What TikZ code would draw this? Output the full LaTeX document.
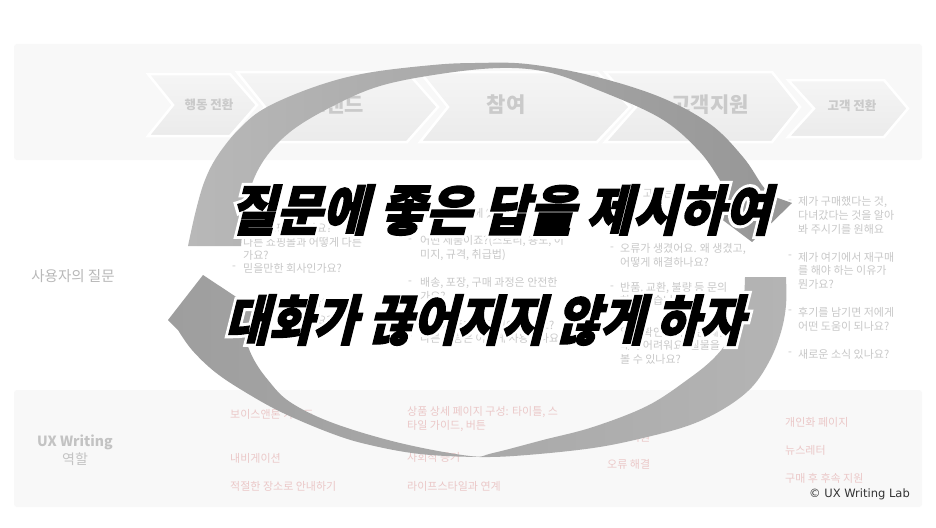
\documentclass[tikz,border=0pt]{standalone}
\usepackage{fontspec}
\usepackage{graphicx}
\newfontfamily\kr{Noto Sans CJK KR}
\newfontfamily\krbig[BoldFeatures={FakeBold=2.5}]{Noto Sans CJK KR}
\newfontfamily\krhalo[BoldFeatures={FakeBold=14}]{Noto Sans CJK KR}
\newfontfamily\dejavu{DejaVu Sans}
\definecolor{bandc}{HTML}{F8F8F8}
\definecolor{chevt}{HTML}{F5F5F5}
\definecolor{chevb}{HTML}{EBEBEB}
\definecolor{qgray}{HTML}{C8C8C8}
\definecolor{pinkc}{HTML}{EBC8C8}
\definecolor{labg}{HTML}{B8B8B8}
\definecolor{chevtxt}{HTML}{CACACA}
\definecolor{arcA}{HTML}{B8B8B8}
\definecolor{arcB}{HTML}{969696}
\definecolor{arcC}{HTML}{9E9E9E}
\definecolor{arcD}{HTML}{B4B4B4}
\definecolor{copyc}{HTML}{333333}
\newcommand\mychev[6]{%
  \shadedraw[top color=chevt,bottom color=chevb,draw=white,line width=2.5pt,line join=miter]
    (#1,#5) -- (#3,#5) -- ({#4},{(#5+#6)/2}) -- (#3,#6) -- (#1,#6) -- ({#2},{(#5+#6)/2}) -- cycle;}
\begin{document}
\begin{tikzpicture}[x=1pt,y=-1pt,
  qt/.style={font=\kr\fontsize{11}{13}\selectfont, text=qgray, anchor=west, inner sep=0pt},
  pk/.style={font=\kr\fontsize{11}{13}\selectfont, text=pinkc, anchor=west, inner sep=0pt},
  chs/.style={font=\kr\bfseries\fontsize{12.5}{14}\selectfont, text=chevtxt, inner sep=0pt},
  chb/.style={font=\kr\bfseries\fontsize{21}{24}\selectfont, text=chevtxt, inner sep=0pt},
  lab/.style={font=\kr\fontsize{14.5}{16}\selectfont, text=labg, inner sep=0pt},
  bigtxt/.style={font=\krbig\bfseries\fontsize{50}{54}\selectfont, text=black, inner sep=0pt, xslant=0.25, transform shape},
  bighalo/.style={font=\krhalo\bfseries\fontsize{50}{54}\selectfont, text=white, inner sep=0pt, xslant=0.25, transform shape}]
\useasboundingbox (0,0) rectangle (936,527);
\fill[white] (0,0) rectangle (936,527);
% bands
\fill[bandc, rounded corners=3pt] (14,44) rectangle (922,160);
\fill[bandc, rounded corners=3pt] (14,390) rectangle (922,507);
% chevrons
\mychev{148}{173}{230}{257}{74}{136}
\mychev{237}{265}{407}{438}{72}{142}
\mychev{420}{448}{597}{630}{72}{142}
\mychev{605}{636}{772}{800}{72}{142}
\mychev{788}{814}{884}{908}{80}{137}
\node[chs] (ch1) at (209,105) {행동 전환};
\node[chb] (ch2) at (335,104) {브랜드};
\node[chb] (ch3) at (506,105) {참여};
\node[chb] (ch4) at (710,105) {고객지원};
\node[chs] (ch5) at (852,106) {고객 전환};
% row labels
\node[lab] (lq) at (73,276) {사용자의 질문};
\node[font=\kr\bfseries\fontsize{14}{16}\selectfont, text=labg!85, inner sep=0pt] (lux) at (75,442) {UX Writing};
\node[lab, font=\kr\fontsize{14}{16}\selectfont, text=labg!85] (lrole) at (75,459) {역할};
% column 1 questions
\node[qt] (q1d) at (232,228) {-};
\node[qt] (q1a) at (243,228) {어떤 쇼핑몰인가요?};
\node[qt] (q1b) at (243,242) {다른 쇼핑몰과 어떻게 다른};
\node[qt] (q1c) at (243,255) {가요?};
\node[qt] (q2d) at (232,268) {-};
\node[qt] (q2a) at (243,268) {믿을만한 회사인가요?};
\node[qt] (q3d) at (232,302) {-};
\node[qt] (q3a) at (243,302) {무엇을 살 수 있나요?};
\node[qt] (q4d) at (232,320) {-};
\node[qt] (q4a) at (243,320) {어떻게 주문하나요?};
% column 2
\node[qt] (r1d) at (408,213) {-};
\node[qt] (r1a) at (420,213) {제품이 어디에 있나요?};
\node[qt] (r2d) at (408,241) {-};
\node[qt] (r2a) at (420,241) {어떤 제품이죠?(스토리, 용도, 이};
\node[qt] (r2b) at (420,255) {미지, 규격, 취급법)};
\node[qt] (r3d) at (408,283) {-};
\node[qt] (r3a) at (420,283) {배송, 포장, 구매 과정은 안전한};
\node[qt] (r3b) at (420,296) {가요?};
\node[qt] (r4d) at (408,325) {-};
\node[qt] (r4a) at (420,325) {다른 제품과 연결되어 있나요?};
\node[qt] (r5d) at (408,338) {-};
\node[qt] (r5a) at (420,338) {다른 사람은 어떻게 사용하나요?};
% column 3
\node[qt] (s1d) at (610,193) {-};
\node[qt] (s1a) at (620,193) {제품 고르는 것을 도와주세};
\node[qt] (s1b) at (620,206) {요};
\node[qt] (s2d) at (610,249) {-};
\node[qt] (s2a) at (620,249) {오류가 생겼어요. 왜 생겼고,};
\node[qt] (s2b) at (620,262) {어떻게 해결하나요?};
\node[qt] (s3d) at (610,288) {-};
\node[qt] (s3a) at (620,288) {반품, 교환, 불량 등 문의};
\node[qt] (s3b) at (620,300) {하고 싶습니다};
\node[qt] (s4d) at (610,332) {-};
\node[qt] (s4a) at (620,332) {일단 확인하지 못한 제품은 구};
\node[qt] (s4b) at (620,345) {매가 어려워요. 실물을};
\node[qt] (s4c) at (620,359) {볼 수 있나요?};
% column 4
\node[qt] (t1d) at (788,202) {-};
\node[qt] (t1a) at (798,202) {제가 구매했다는 것,};
\node[qt] (t1b) at (798,215) {다녀갔다는 것을 알아};
\node[qt] (t1c) at (798,229) {봐 주시기를 원해요};
\node[qt] (t2d) at (788,257) {-};
\node[qt] (t2a) at (798,257) {제가 여기에서 재구매};
\node[qt] (t2b) at (798,270) {를 해야 하는 이유가};
\node[qt] (t2c) at (798,284) {뭔가요?};
\node[qt] (t3d) at (788,312) {-};
\node[qt] (t3a) at (798,312) {후기를 남기면 저에게};
\node[qt] (t3b) at (798,326) {어떤 도움이 되나요?};
\node[qt] (t4d) at (788,354) {-};
\node[qt] (t4a) at (798,354) {새로운 소식 있나요?};
% UX writing roles
\node[pk] (u1) at (230,414) {보이스앤톤 가이드};
\node[pk] (u2) at (230,458) {내비게이션};
\node[pk] (u3) at (230,486) {적절한 장소로 안내하기};
\node[pk] (v1) at (407,412) {상품 상세 페이지 구성: 타이틀, 스};
\node[pk] (v1b) at (407,426) {타일 가이드, 버튼};
\node[pk] (v2) at (407,457) {사회적 증거};
\node[pk] (v3) at (407,486) {라이프스타일과 연계};
\node[pk] (w1) at (607,437) {고객 지원};
\node[pk] (w2) at (607,464) {오류 해결};
\node[pk] (x1) at (785,422) {개인화 페이지};
\node[pk] (x2) at (785,450) {뉴스레터};
\node[pk] (x3) at (785,478) {구매 후 후속 지원};
\node[font=\dejavu\fontsize{11.5}{13}\selectfont, text=copyc, anchor=east, inner sep=0pt] (copy) at (910,494) {© UX Writing Lab};
% upper circular arrow
\shade[left color=arcA, right color=arcB]
  plot[smooth, tension=0.6] coordinates {(188,246) (196,210) (205,180) (218,155) (240,128) (267,107) (317,86) (367,73) (433,65) (475,63) (527,64) (593,76) (660,97) (710,124) (743,157) (762,185) (772,196)}
  -- (792,203) -- (752,242) -- (700,203)
  -- plot[smooth, tension=0.6] coordinates {(722,184) (700,152) (660,118) (593,88) (547,72) (500,68) (440,74) (380,86) (333,106) (290,132) (262,163) (247,200) (241,246)} -- cycle;
% lower circular arrow
\shade[left color=arcC, right color=arcD]
  plot[smooth, tension=0.6] coordinates {(786,277) (786,305) (781,332) (770,360) (752,387) (725,408) (690,425) (643,438) (593,448) (527,455) (480,457) (420,454) (370,445) (333,434) (283,413) (245,392) (215,372) (192,350) (178,330)}
  -- (168,320) -- (203,275) -- (265,316)
  -- plot[smooth, tension=0.6] coordinates {(243,333) (253,358) (268,380) (290,402) (333,423) (400,443) (470,456) (493,453) (543,440) (593,427) (647,406) (687,380) (715,357) (735,330) (743,305) (745,277)} -- cycle;
% big text with white halo
\begin{scope}[shift={(505,210)}]
  \node[bighalo] (halo1) at (0,0) {\scalebox{1}[1.08]{질문에 좋은 답을 제시하여}};
  \node[bigtxt] (line1) at (0,0) {\scalebox{1}[1.08]{질문에 좋은 답을 제시하여}};
\end{scope}
\begin{scope}[shift={(489,320)}]
  \node[bighalo] (halo2) at (0,0) {\scalebox{0.96}[1.08]{대화가 끊어지지 않게 하자}};
  \node[bigtxt] (line2) at (0,0) {\scalebox{0.96}[1.08]{대화가 끊어지지 않게 하자}};
\end{scope}
\end{tikzpicture}
\end{document}
